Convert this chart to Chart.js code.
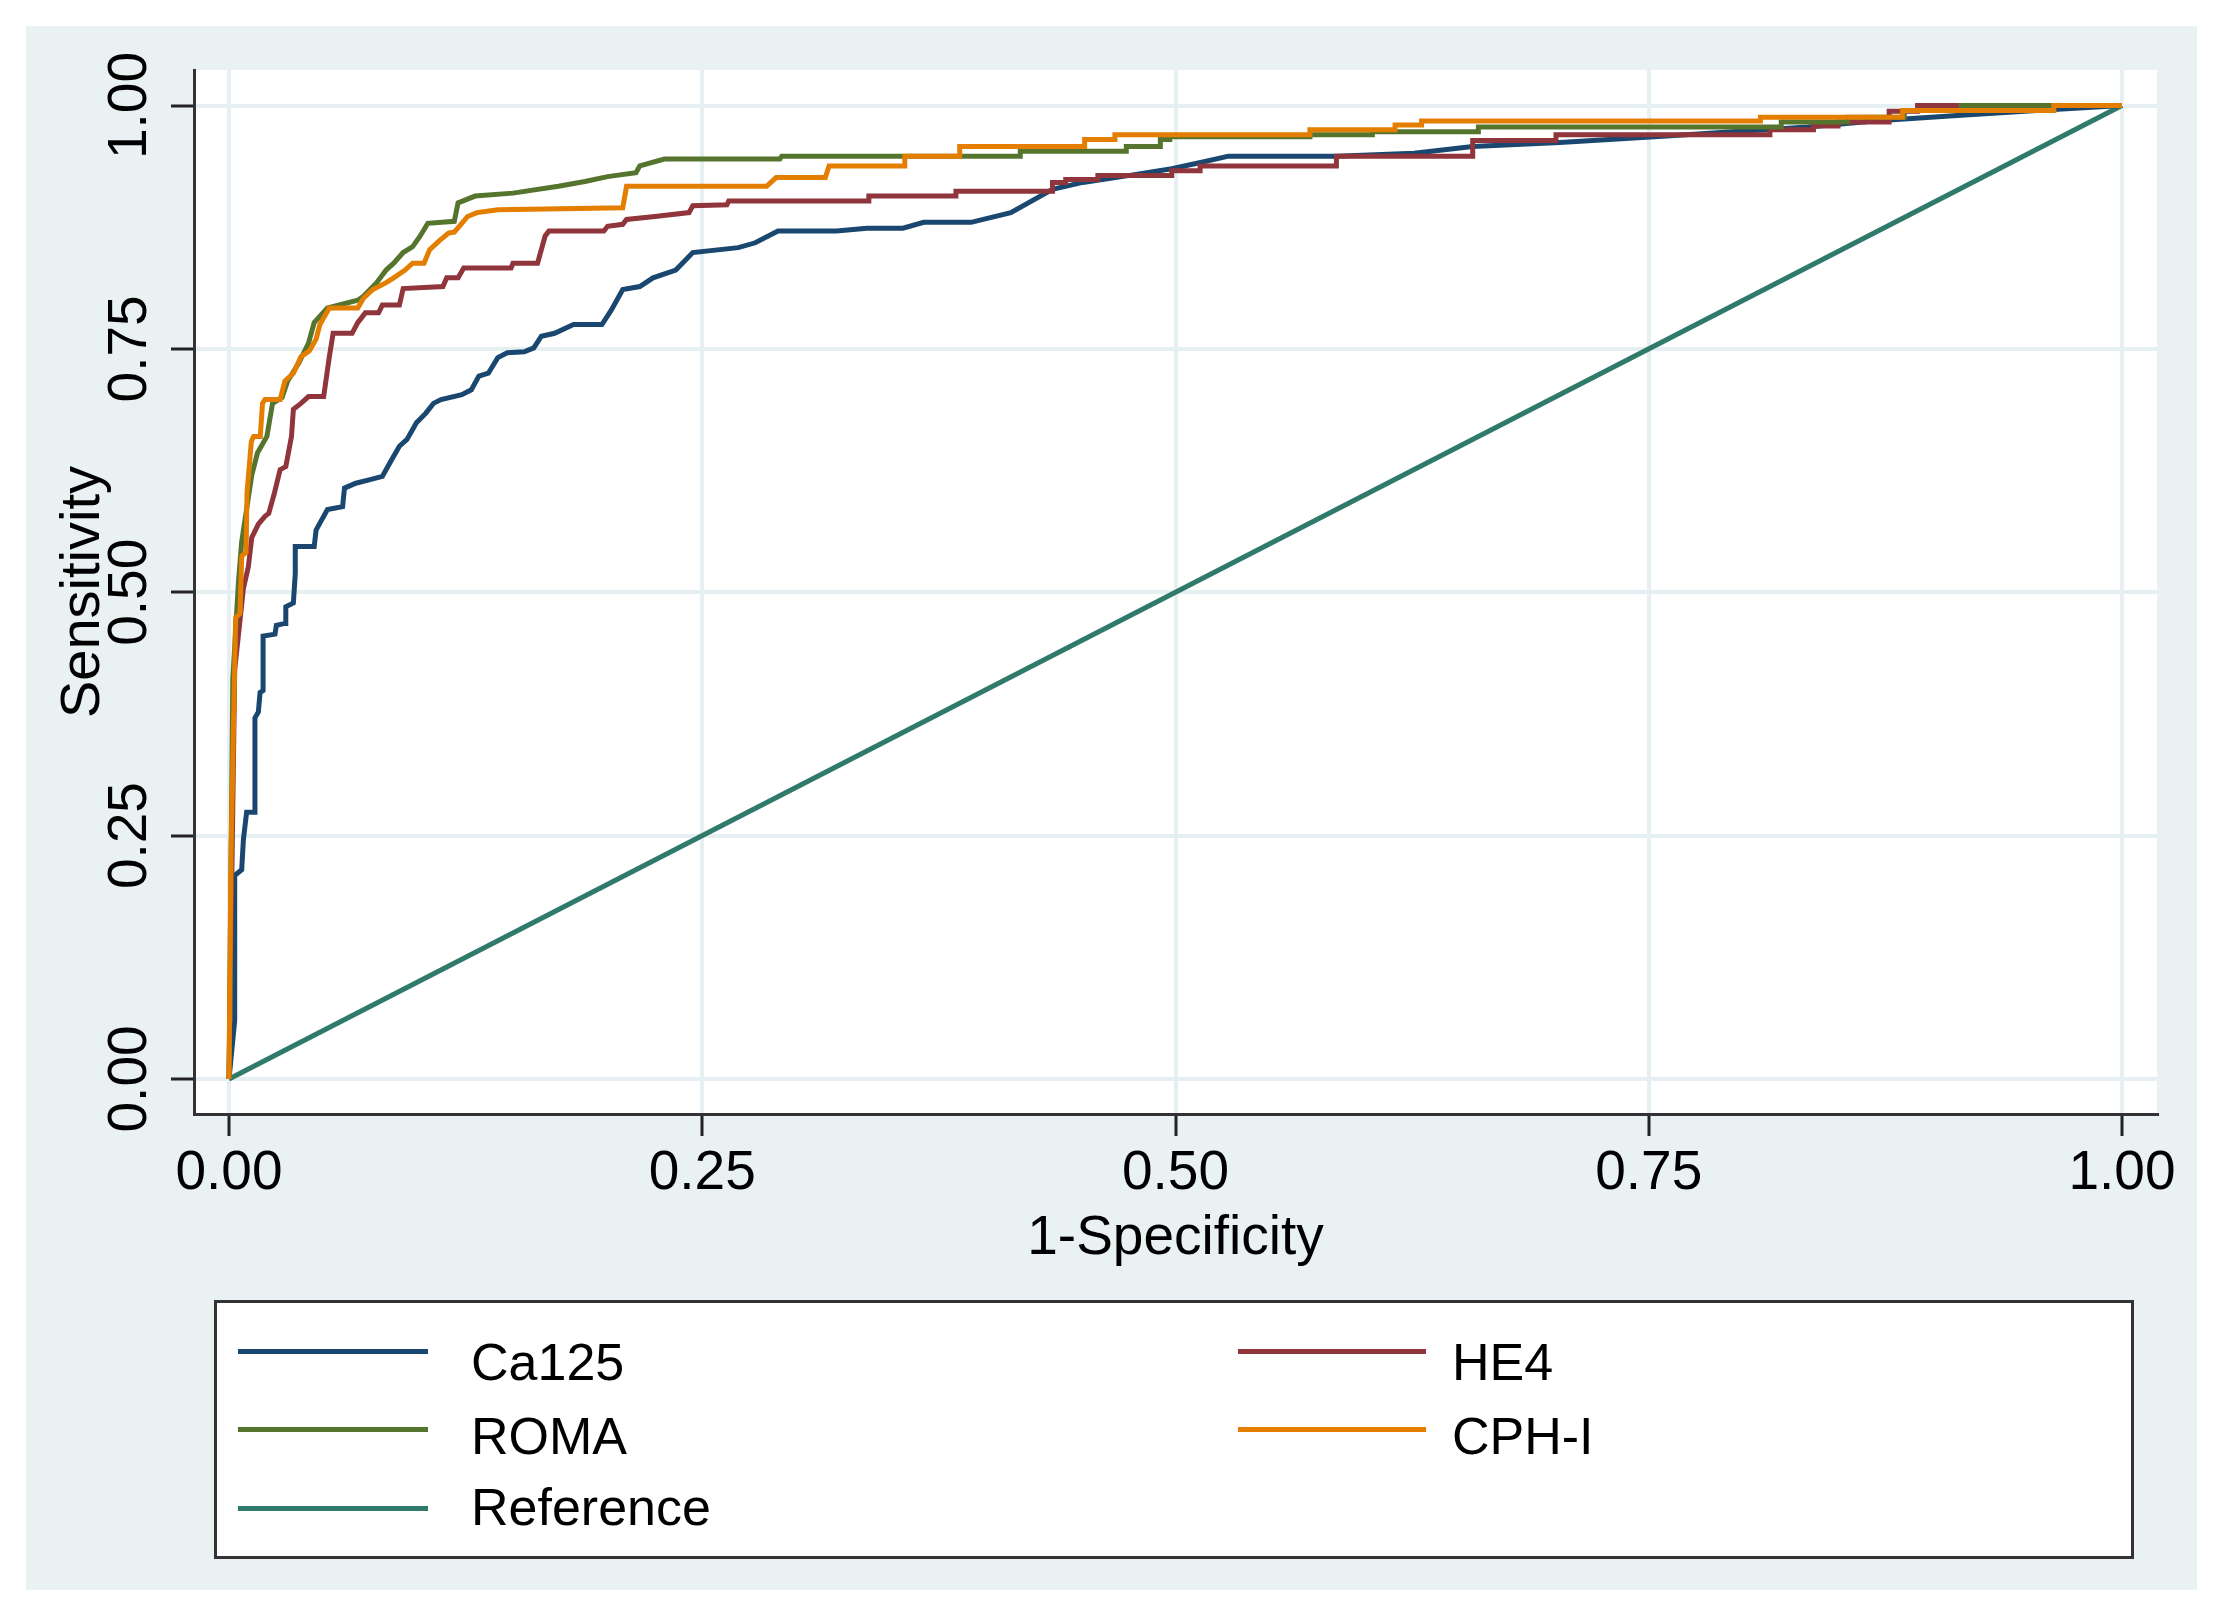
<!DOCTYPE html>
<html lang="en">
<head>
  <meta charset="UTF-8" />
  <title>ROC curves - Ca125, HE4, ROMA, CPH-I</title>
  <script src="https://cdn.jsdelivr.net/npm/chart.js"></script>
  <style>
    html, body {
      margin: 0;
      padding: 0;
      background: #fff;
    }
    body {
      position: relative;
      width: 2233px;
      height: 1620px;
      overflow: hidden;
      font-family: 'Liberation Sans', Arial, sans-serif;
    }
    .panel {
      position: absolute;
      left: 26px;
      top: 26px;
      width: 2171px;
      height: 1564px;
      background: #e9f1f3;
    }
    #roc {
      position: absolute;
      left: 0;
      top: 0;
    }
    .legend-box {
      position: absolute;
      left: 214px;
      top: 1300px;
      width: 1914px;
      height: 253px;
      background: #fff;
      border: 3px solid #333;
    }
    .key-line {
      position: absolute;
      height: 5px;
    }
    .key-text {
      position: absolute;
      font-size: 52px;
      line-height: 52px;
      color: #000;
      white-space: nowrap;
    }
    .col1 .key-line { left: 238px; width: 190px; }
    .col1 .key-text { left: 471px; }
    .col2 .key-line { left: 1238px; width: 188px; }
    .col2 .key-text { left: 1452px; }
    .row1 .key-line { top: 1349px; }
    .row1 .key-text { top: 1336px; }
    .row2 .key-line { top: 1427px; }
    .row2 .key-text { top: 1410px; }
    .row3 .key-line { top: 1506px; }
    .row3 .key-text { top: 1481px; }
  </style>
</head>
<body>

  <div class="panel"></div>
  <canvas id="roc" width="2233" height="1620"></canvas>
  <div class="legend-box"></div>
  <div id="legend"></div>

  <script>
    // ROC points [1-specificity, sensitivity]
    const ca125Roc = [
      [0, 0], [0.003, 0.06], [0.003, 0.209], [0.0067, 0.215], [0.0076, 0.246], [0.0093, 0.274],
      [0.0137, 0.274], [0.0137, 0.371], [0.0155, 0.377], [0.0164, 0.397], [0.018, 0.399],
      [0.018, 0.455], [0.0243, 0.457], [0.025, 0.466], [0.0296, 0.468], [0.030, 0.485],
      [0.034, 0.489], [0.035, 0.519], [0.035, 0.547], [0.045, 0.547], [0.046, 0.564],
      [0.048, 0.571], [0.052, 0.585], [0.060, 0.588], [0.061, 0.607], [0.067, 0.612],
      [0.075, 0.616], [0.081, 0.619], [0.085, 0.633], [0.090, 0.650], [0.094, 0.657],
      [0.099, 0.674], [0.104, 0.684], [0.108, 0.694], [0.112, 0.698], [0.123, 0.703],
      [0.128, 0.708], [0.132, 0.722], [0.137, 0.725], [0.142, 0.741], [0.147, 0.746],
      [0.156, 0.747], [0.161, 0.751], [0.165, 0.763], [0.172, 0.766], [0.182, 0.775],
      [0.197, 0.775], [0.202, 0.790], [0.208, 0.811], [0.217, 0.814], [0.224, 0.823],
      [0.236, 0.831], [0.245, 0.849], [0.269, 0.854], [0.278, 0.859], [0.290, 0.871],
      [0.321, 0.871], [0.337, 0.874], [0.356, 0.874], [0.367, 0.880], [0.392, 0.880],
      [0.413, 0.890], [0.435, 0.914], [0.451, 0.921], [0.475, 0.928], [0.498, 0.935],
      [0.512, 0.941], [0.528, 0.948], [0.585, 0.948], [0.626, 0.951], [0.657, 0.958],
      [0.703, 0.962], [0.753, 0.968], [0.834, 0.978], [0.875, 0.985], [0.915, 0.990],
      [0.955, 0.995], [1, 1]
    ];

    const he4Roc = [
      [0, 0], [0.003, 0.42], [0.0076, 0.504], [0.0102, 0.526], [0.012, 0.556], [0.0155, 0.570],
      [0.019, 0.578], [0.021, 0.581], [0.024, 0.602], [0.027, 0.626], [0.030, 0.629],
      [0.033, 0.660], [0.034, 0.688], [0.038, 0.694], [0.042, 0.701], [0.050, 0.701],
      [0.053, 0.742], [0.055, 0.766], [0.065, 0.766], [0.068, 0.777], [0.072, 0.787],
      [0.079, 0.787], [0.081, 0.795], [0.090, 0.795], [0.092, 0.812], [0.113, 0.814],
      [0.115, 0.823], [0.121, 0.823], [0.124, 0.833], [0.149, 0.833], [0.150, 0.838],
      [0.163, 0.838], [0.167, 0.866], [0.169, 0.871], [0.198, 0.871], [0.200, 0.876],
      [0.208, 0.878], [0.210, 0.883], [0.225, 0.886], [0.243, 0.890], [0.245, 0.897],
      [0.263, 0.898], [0.264, 0.902], [0.338, 0.902], [0.338, 0.907], [0.384, 0.907],
      [0.384, 0.912], [0.435, 0.912], [0.435, 0.921], [0.442, 0.921], [0.442, 0.924],
      [0.459, 0.924], [0.459, 0.928], [0.498, 0.928], [0.498, 0.933], [0.513, 0.933],
      [0.513, 0.938], [0.585, 0.938], [0.585, 0.948], [0.657, 0.948], [0.657, 0.964],
      [0.701, 0.964], [0.701, 0.970], [0.814, 0.970], [0.814, 0.975], [0.837, 0.975],
      [0.837, 0.979], [0.850, 0.979], [0.850, 0.983], [0.877, 0.983], [0.877, 0.994],
      [0.892, 0.994], [0.892, 1], [1, 1]
    ];

    const romaRoc = [
      [0, 0], [0.002, 0.41], [0.004, 0.478], [0.005, 0.511], [0.0067, 0.552], [0.0085, 0.575],
      [0.012, 0.62], [0.015, 0.643], [0.020, 0.660], [0.023, 0.694], [0.028, 0.700],
      [0.031, 0.717], [0.037, 0.736], [0.042, 0.756], [0.045, 0.777], [0.052, 0.792],
      [0.068, 0.800], [0.071, 0.804], [0.078, 0.818], [0.083, 0.831], [0.087, 0.838],
      [0.092, 0.849], [0.097, 0.855], [0.101, 0.866], [0.105, 0.879], [0.119, 0.881],
      [0.121, 0.900], [0.130, 0.907], [0.150, 0.910], [0.174, 0.917], [0.188, 0.922],
      [0.200, 0.927], [0.215, 0.931], [0.217, 0.938], [0.230, 0.945], [0.291, 0.945],
      [0.292, 0.948], [0.418, 0.948], [0.418, 0.953], [0.474, 0.953], [0.474, 0.958],
      [0.492, 0.958], [0.492, 0.965], [0.497, 0.965], [0.497, 0.968], [0.571, 0.968],
      [0.571, 0.970], [0.604, 0.970], [0.604, 0.973], [0.660, 0.973], [0.660, 0.978],
      [0.820, 0.978], [0.820, 0.983], [0.855, 0.983], [0.855, 0.988], [0.885, 0.988],
      [0.885, 0.995], [0.915, 0.995], [0.915, 1], [1, 1]
    ];

    const cphiRoc = [
      [0, 0], [0.001, 0.228], [0.002, 0.325], [0.0035, 0.474], [0.0058, 0.478], [0.0067, 0.537],
      [0.009, 0.541], [0.0095, 0.602], [0.0118, 0.655], [0.013, 0.660], [0.0165, 0.660],
      [0.0177, 0.694], [0.019, 0.698], [0.027, 0.698], [0.0295, 0.717], [0.034, 0.725],
      [0.038, 0.742], [0.0425, 0.748], [0.046, 0.760], [0.048, 0.775], [0.053, 0.792],
      [0.068, 0.792], [0.071, 0.802], [0.076, 0.811], [0.083, 0.818], [0.087, 0.823],
      [0.093, 0.831], [0.097, 0.838], [0.103, 0.838], [0.106, 0.852], [0.111, 0.861],
      [0.116, 0.869], [0.119, 0.870], [0.123, 0.879], [0.126, 0.886], [0.131, 0.890],
      [0.142, 0.893], [0.208, 0.895], [0.210, 0.917], [0.284, 0.917], [0.289, 0.926],
      [0.315, 0.926], [0.317, 0.938], [0.357, 0.938], [0.357, 0.948], [0.386, 0.948],
      [0.386, 0.958], [0.452, 0.958], [0.452, 0.965], [0.468, 0.965], [0.468, 0.970],
      [0.571, 0.970], [0.571, 0.975], [0.616, 0.975], [0.616, 0.980], [0.630, 0.980],
      [0.630, 0.984], [0.809, 0.984], [0.809, 0.988], [0.884, 0.988], [0.884, 0.995],
      [0.964, 0.995], [0.964, 1], [1, 1]
    ];

    const referenceRoc = [[0, 0], [1, 1]];

    const tickValues = [0, 0.25, 0.5, 0.75, 1];
    const tickLabels = ['0.00', '0.25', '0.50', '0.75', '1.00'];

    const FONT = "'Liberation Sans', Arial, sans-serif";

    // series: name, points, colour, draw order (lower = on top), legend slot
    const series = [
      { name: 'Ca125',     points: ca125Roc,     color: '#1a476f', order: 3, slot: 'col1 row1' },
      { name: 'HE4',       points: he4Roc,       color: '#90353b', order: 2, slot: 'col2 row1' },
      { name: 'ROMA',      points: romaRoc,      color: '#55752f', order: 1, slot: 'col1 row2' },
      { name: 'CPH-I',     points: cphiRoc,      color: '#e37e00', order: 0, slot: 'col2 row2' },
      { name: 'Reference', points: referenceRoc, color: '#2f7a6a', order: 4, slot: 'col1 row3' }
    ];

    const plotBg = {
      id: 'plotBg',
      beforeDraw(chart) {
        const { ctx, chartArea: a } = chart;
        ctx.save();
        ctx.fillStyle = '#fff';
        ctx.fillRect(a.left, a.top, a.right - a.left, a.bottom - a.top);
        ctx.restore();
      }
    };

    const setTicks = (scale) => {
      scale.ticks = tickValues.map(v => ({ value: v }));
    };

    new Chart(document.getElementById('roc').getContext('2d'), {
      type: 'scatter',
      data: {
        datasets: series.map(s => ({
          label: s.name,
          data: s.points.map(([x, y]) => ({ x, y })),
          borderColor: s.color,
          backgroundColor: s.color,
          borderWidth: 5,
          showLine: true,
          pointRadius: 0,
          tension: 0,
          borderJoinStyle: 'miter',
          order: s.order
        }))
      },
      options: {
        responsive: false,
        animation: false,
        events: [],
        layout: {
          autoPadding: false,
          padding: { left: 0, top: 70, right: 76, bottom: 354 }
        },
        plugins: {
          legend: { display: false },
          tooltip: { enabled: false }
        },
        scales: {
          x: {
            type: 'linear',
            min: -0.0185,
            max: 1.0185,
            afterBuildTicks: setTicks,
            afterFit: (s) => { s.height = 152; s.paddingLeft = 0; s.paddingRight = 0; },
            grid: { color: '#e6eff1', lineWidth: 4, tickLength: 22, tickColor: '#222', tickWidth: 3 },
            border: { display: true, color: '#333', width: 3 },
            ticks: {
              autoSkip: false,
              maxRotation: 0,
              padding: 10.5,
              color: '#000',
              font: { family: FONT, size: 55, lineHeight: 1 },
              callback: (v, i) => tickLabels[i]
            },
            title: {
              display: true,
              text: '1-Specificity',
              color: '#000',
              font: { family: FONT, size: 55, lineHeight: 1 },
              padding: { top: 0, bottom: 0 }
            }
          },
          y: {
            type: 'linear',
            min: -0.036,
            max: 1.0365,
            afterBuildTicks: setTicks,
            afterFit: (s) => { s.width = 194; s.paddingTop = 0; s.paddingBottom = 0; },
            grid: { color: '#e6eff1', lineWidth: 4, tickLength: 23, tickColor: '#222', tickWidth: 3 },
            border: { display: true, color: '#333', width: 3 },
            ticks: {
              autoSkip: false,
              minRotation: 90,
              maxRotation: 90,
              crossAlign: 'center',
              padding: -13.5,
              color: '#000',
              font: { family: FONT, size: 55, lineHeight: 1 },
              callback: (v, i) => tickLabels[i]
            },
            title: {
              display: true,
              text: 'Sensitivity',
              color: '#000',
              font: { family: FONT, size: 56, lineHeight: 1 },
              padding: { top: 56, bottom: 0 }
            }
          }
        }
      },
      plugins: [plotBg]
    });

    // legend laid out like the Stata key box
    const legend = document.getElementById('legend');
    series.forEach(s => {
      const item = document.createElement('div');
      item.className = s.slot;
      item.innerHTML = `<div class="key-line" style="background:${s.color}"></div>` +
                       `<div class="key-text">${s.name}</div>`;
      legend.appendChild(item);
    });
  </script>
</body>
</html>
